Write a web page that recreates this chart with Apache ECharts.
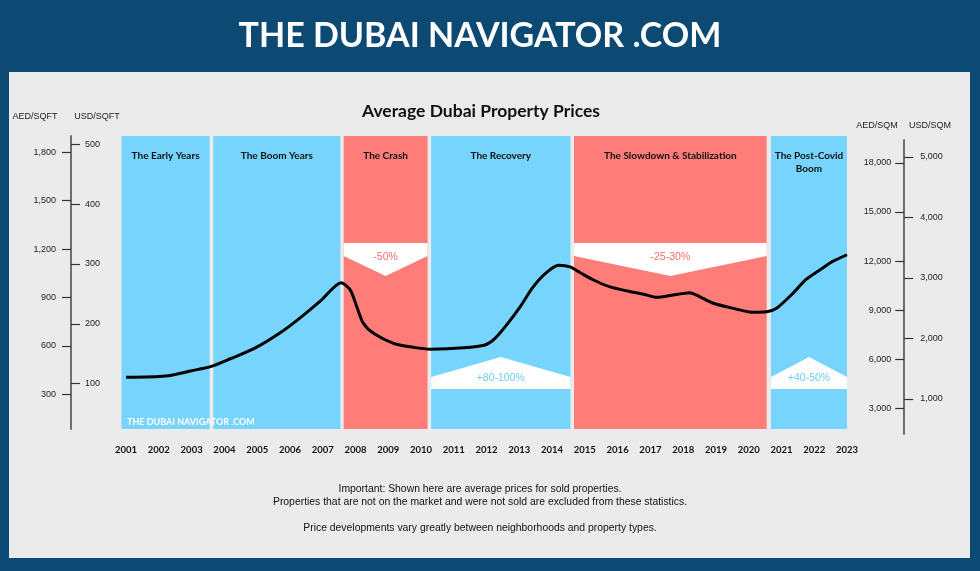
<!DOCTYPE html>
<html>
<head>
<meta charset="utf-8">
<style>
  html, body { margin: 0; padding: 0; background: #0c4a74; }
  #main { width: 980px; height: 571px; }
</style>
<script src="https://cdn.jsdelivr.net/npm/echarts@6/dist/echarts.min.js"></script>
</head>
<body>
<div id="main"></div>
<script>
// average price per sqft (AED)
const years = [2001, 2002.2, 2003, 2003.6, 2004.2, 2004.9, 2005.75, 2006.35, 2006.95, 2007.56,
  2007.84, 2008.04, 2008.24, 2008.55, 2009.16, 2009.77, 2010.3, 2011.3, 2011.95,
  2012.25, 2012.65, 2013.05, 2013.4, 2013.8, 2014.2, 2014.55, 2014.85, 2015.25, 2015.75,
  2016.3, 2016.8, 2017.2, 2017.7, 2018.2, 2018.5, 2018.9, 2019.5, 2020.1, 2020.55,
  2020.85, 2021.35, 2021.75, 2022.2, 2022.55, 2023];
const prices = [405, 413, 446, 473, 522, 583, 688, 780, 882, 992,
  947, 843, 740, 678, 616, 591, 580, 588, 606,
  645, 740, 850, 960, 1050, 1100, 1090, 1055, 1010, 967,
  940, 920, 901, 916, 930, 906, 866, 834, 809, 812,
  833, 926, 1012, 1075, 1122, 1165];

// market periods
const periodNames = ['The Early Years', 'The Boom Years', 'The Crash', 'The Recovery',
  'The Slowdown & Stabilization', 'The Post-Covid\nBoom'];
const periodStart = [2000.86, 2003.66, 2007.64, 2010.31, 2014.67, 2020.68];
const periodEnd = [2003.55, 2007.54, 2010.2, 2014.56, 2020.55, 2023];
const periodTrend = ['up', 'up', 'down', 'up', 'down', 'up'];
const periodChange = ['', '', '-50%', '+80-100%', '-25-30%', '+40-50%'];

const yearTicks = [2001, 2002, 2003, 2004, 2005, 2006, 2007, 2008, 2009, 2010, 2011, 2012,
  2013, 2014, 2015, 2016, 2017, 2018, 2019, 2020, 2021, 2022, 2023];
const aedSqftTicks = [300, 600, 900, 1200, 1500, 1800];
const usdSqftTicks = [100, 200, 300, 400, 500];
const aedSqmTicks = [3000, 6000, 9000, 12000, 15000, 18000];
const usdSqmTicks = [1000, 2000, 3000, 4000, 5000];

const BLUE = '#76d4fd';
const RED = '#fe7d78';
const AXIS_FONT = 'Liberation Sans';
const HEAD_FONT = 'Lato';

const chart = echarts.init(document.getElementById('main'));

const fmt = v => v.toLocaleString('en-US');

function sideAxis(ticks, inside, margin, extra) {
  return Object.assign({
    type: 'value',
    splitLine: { show: false },
    axisLine: { show: true, onZero: false, lineStyle: { color: '#6a6a6a', width: 1.6 } },
    axisTick: { show: true, inside: inside, length: 9, customValues: ticks, lineStyle: { color: '#333', width: 1.2 } },
    axisLabel: {
      customValues: ticks, inside: inside, margin: margin, formatter: fmt,
      color: '#222', fontSize: 9, fontFamily: AXIS_FONT
    }
  }, extra);
}

function renderBand(params, api) {
  const i = api.value(2);
  const cs = params.coordSys;
  const x0 = api.coord([api.value(0), 0])[0];
  const x1 = api.coord([api.value(1), 0])[0];
  return {
    type: 'group',
    children: [
      {
        type: 'rect',
        shape: { x: x0, y: cs.y, width: x1 - x0, height: cs.height },
        style: { fill: periodTrend[i] === 'up' ? BLUE : RED }
      },
      {
        type: 'text',
        style: {
          text: periodNames[i], x: (x0 + x1) / 2, y: cs.y + 13,
          align: 'center', verticalAlign: 'top', lineHeight: 13,
          font: 'bold 10px ' + HEAD_FONT, fill: '#111'
        }
      }
    ]
  };
}

function renderCallout(params, api) {
  const i = api.value(2);
  const cs = params.coordSys;
  const x0 = api.coord([api.value(0), 0])[0];
  const x1 = api.coord([api.value(1), 0])[0];
  const xm = (x0 + x1) / 2;
  let pts, ty;
  if (periodTrend[i] === 'down') {
    const top = cs.y + 107;
    pts = [[x0, top], [x1, top], [x1, top + 13], [xm, top + 33], [x0, top + 13]];
    ty = top + 14;
  } else {
    const bot = cs.y + 253;
    pts = [[x0, bot], [x1, bot], [x1, bot - 12], [xm, bot - 32], [x0, bot - 12]];
    ty = bot - 11;
  }
  return {
    type: 'group',
    children: [
      { type: 'polygon', shape: { points: pts }, style: { fill: '#ffffff' } },
      {
        type: 'text',
        style: {
          text: periodChange[i], x: xm, y: ty, align: 'center', verticalAlign: 'middle',
          font: '10.5px ' + AXIS_FONT, fill: periodTrend[i] === 'up' ? '#6fcdf7' : '#f4716c'
        }
      }
    ]
  };
}

const bandData = periodNames.map((n, i) => [periodStart[i], periodEnd[i], i]);
const calloutData = bandData.filter((d, i) => periodChange[i] !== '');

const unitFont = '9px ' + AXIS_FONT;

const option = {
  backgroundColor: '#0c4a74',
  animation: false,
  grid: [
    { left: 121.5, right: 133, top: 136, height: 293 },
    { left: 880, right: 75.8, top: 140, height: 294 }
  ],
  xAxis: [
    {
      gridIndex: 0, type: 'value', min: 2000.86, max: 2023,
      axisLine: { show: false }, axisTick: { show: false }, splitLine: { show: false },
      axisLabel: {
        customValues: yearTicks, formatter: v => String(v), margin: 16,
        color: '#111', fontSize: 9.5, fontWeight: 'bold', fontFamily: HEAD_FONT
      }
    },
    { gridIndex: 1, type: 'value', min: 1, max: 2, show: false }
  ],
  yAxis: [
    sideAxis(aedSqftTicks, false, 15, { gridIndex: 0, position: 'left', offset: 50.5, min: 85, max: 1901 }),
    sideAxis(usdSqftTicks, true, 14, { gridIndex: 0, position: 'left', offset: 50.5, min: 24.3, max: 513.9 }),
    sideAxis(aedSqmTicks, true, 13, { gridIndex: 1, position: 'right', min: 1436, max: 19399 }),
    sideAxis(usdSqmTicks, false, 16, { gridIndex: 1, position: 'right', min: 420, max: 5277 })
  ],
  series: [
    {
      type: 'custom', name: 'periods', xAxisIndex: 0, yAxisIndex: 0, z: 1,
      renderItem: renderBand, encode: { x: [0, 1] }, data: bandData, silent: true
    },
    {
      type: 'custom', name: 'change', xAxisIndex: 0, yAxisIndex: 0, z: 2,
      renderItem: renderCallout, encode: { x: [0, 1] }, data: calloutData, silent: true
    },
    {
      type: 'line', name: 'AED/SQFT', xAxisIndex: 0, yAxisIndex: 0, z: 3,
      data: years.map((y, i) => [y, prices[i]]),
      smooth: 0.25, showSymbol: false,
      lineStyle: { color: '#000', width: 3 }
    }
  ],
  graphic: [
    { type: 'rect', z: -100, silent: true, shape: { x: 9, y: 72, width: 961, height: 486 }, style: { fill: '#ebebeb' } },
    { type: 'text', z: 100, x: 480, y: 36, style: { text: 'THE DUBAI NAVIGATOR .COM', align: 'center', verticalAlign: 'middle', font: 'bold 34px ' + HEAD_FONT, fill: '#ffffff' } },
    { type: 'text', z: 100, x: 481, y: 111, style: { text: 'Average Dubai Property Prices', align: 'center', verticalAlign: 'middle', font: 'bold 17.5px ' + HEAD_FONT, fill: '#111' } },
    { type: 'text', z: 100, x: 35, y: 117, style: { text: 'AED/SQFT', align: 'center', verticalAlign: 'middle', font: unitFont, fill: '#222' } },
    { type: 'text', z: 100, x: 97, y: 117, style: { text: 'USD/SQFT', align: 'center', verticalAlign: 'middle', font: unitFont, fill: '#222' } },
    { type: 'text', z: 100, x: 877, y: 126, style: { text: 'AED/SQM', align: 'center', verticalAlign: 'middle', font: unitFont, fill: '#222' } },
    { type: 'text', z: 100, x: 930, y: 126, style: { text: 'USD/SQM', align: 'center', verticalAlign: 'middle', font: unitFont, fill: '#222' } },
    { type: 'text', z: 100, x: 127, y: 422, style: { text: 'THE DUBAI NAVIGATOR .COM', align: 'left', verticalAlign: 'middle', font: 'bold 9px ' + HEAD_FONT, fill: '#ffffff' } },
    {
      type: 'text', z: 100, x: 480, y: 483,
      style: {
        text: 'Important: Shown here are average prices for sold properties.\n' +
          'Properties that are not on the market and were not sold are excluded from these statistics.\n\n' +
          'Price developments vary greatly between neighborhoods and property types.',
        align: 'center', verticalAlign: 'top', lineHeight: 13,
        font: '10.4px ' + AXIS_FONT, fill: '#111'
      }
    }
  ]
};

chart.setOption(option);
</script>
</body>
</html>
